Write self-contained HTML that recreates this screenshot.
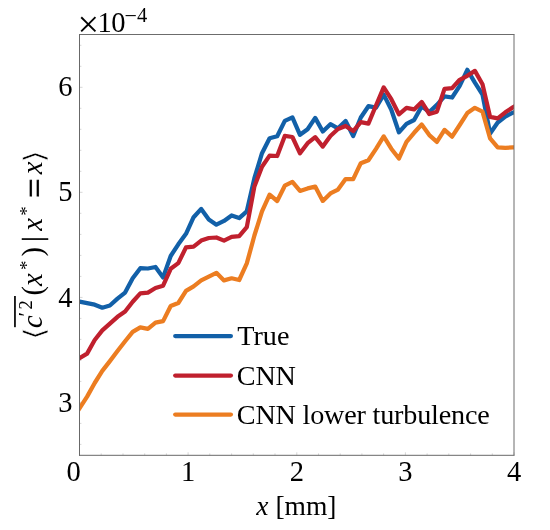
<!DOCTYPE html>
<html><head><meta charset="utf-8"><title>plot</title>
<style>
html,body{margin:0;padding:0;background:#fff;}
svg{display:block;}
text{font-family:"Liberation Serif","DejaVu Serif",serif;fill:#000;}
.t{font-size:28.5px;}
.i{font-style:italic;}
</style></head><body>
<svg width="550" height="530" viewBox="0 0 550 530">
<rect width="550" height="530" fill="#fff"/>
<g stroke="#b8b8b8" stroke-width="0.6">
<line x1="79.5" y1="455.3" x2="79.5" y2="452.3"/>
<line x1="101.2" y1="455.3" x2="101.2" y2="453.4"/>
<line x1="123.0" y1="455.3" x2="123.0" y2="453.4"/>
<line x1="144.7" y1="455.3" x2="144.7" y2="453.4"/>
<line x1="166.4" y1="455.3" x2="166.4" y2="453.4"/>
<line x1="188.1" y1="455.3" x2="188.1" y2="452.3"/>
<line x1="209.8" y1="455.3" x2="209.8" y2="453.4"/>
<line x1="231.6" y1="455.3" x2="231.6" y2="453.4"/>
<line x1="253.3" y1="455.3" x2="253.3" y2="453.4"/>
<line x1="275.0" y1="455.3" x2="275.0" y2="453.4"/>
<line x1="296.8" y1="455.3" x2="296.8" y2="452.3"/>
<line x1="318.5" y1="455.3" x2="318.5" y2="453.4"/>
<line x1="340.2" y1="455.3" x2="340.2" y2="453.4"/>
<line x1="361.9" y1="455.3" x2="361.9" y2="453.4"/>
<line x1="383.6" y1="455.3" x2="383.6" y2="453.4"/>
<line x1="405.4" y1="455.3" x2="405.4" y2="452.3"/>
<line x1="427.1" y1="455.3" x2="427.1" y2="453.4"/>
<line x1="448.8" y1="455.3" x2="448.8" y2="453.4"/>
<line x1="470.6" y1="455.3" x2="470.6" y2="453.4"/>
<line x1="492.3" y1="455.3" x2="492.3" y2="453.4"/>
<line x1="514.0" y1="455.3" x2="514.0" y2="452.3"/>
<line x1="79.5" y1="444.4" x2="81.4" y2="444.4"/>
<line x1="79.5" y1="423.4" x2="81.4" y2="423.4"/>
<line x1="79.5" y1="402.4" x2="82.5" y2="402.4"/>
<line x1="79.5" y1="381.4" x2="81.4" y2="381.4"/>
<line x1="79.5" y1="360.4" x2="81.4" y2="360.4"/>
<line x1="79.5" y1="339.4" x2="81.4" y2="339.4"/>
<line x1="79.5" y1="318.4" x2="81.4" y2="318.4"/>
<line x1="79.5" y1="297.4" x2="82.5" y2="297.4"/>
<line x1="79.5" y1="276.4" x2="81.4" y2="276.4"/>
<line x1="79.5" y1="255.4" x2="81.4" y2="255.4"/>
<line x1="79.5" y1="234.4" x2="81.4" y2="234.4"/>
<line x1="79.5" y1="213.3" x2="81.4" y2="213.3"/>
<line x1="79.5" y1="192.3" x2="82.5" y2="192.3"/>
<line x1="79.5" y1="171.3" x2="81.4" y2="171.3"/>
<line x1="79.5" y1="150.3" x2="81.4" y2="150.3"/>
<line x1="79.5" y1="129.3" x2="81.4" y2="129.3"/>
<line x1="79.5" y1="108.3" x2="81.4" y2="108.3"/>
<line x1="79.5" y1="87.3" x2="82.5" y2="87.3"/>
<line x1="79.5" y1="66.3" x2="81.4" y2="66.3"/>
<line x1="79.5" y1="45.3" x2="81.4" y2="45.3"/>
</g>
<g fill="none" stroke-linejoin="round" stroke-linecap="butt" stroke-width="4.25">
<clipPath id="cp"><rect x="79.5" y="34.5" width="434.5" height="420.8"/></clipPath>
<g clip-path="url(#cp)">
<polyline stroke="#1260a8" points="71.9,300.2 79.5,301.7 87.1,303.2 94.7,304.7 102.3,307.7 109.9,305.5 117.5,298.7 125.1,292.6 132.7,278.3 140.3,268.2 147.9,268.5 155.5,267.0 163.1,277.4 170.7,256.0 178.3,244.3 186.0,233.8 193.6,217.2 201.2,208.9 208.8,219.4 216.4,224.7 224.0,220.9 231.6,215.5 239.2,218.1 246.8,211.3 254.4,178.1 262.0,153.2 269.6,138.2 277.2,136.3 284.8,120.9 292.4,117.4 300.0,134.8 307.6,129.2 315.2,117.9 322.8,131.5 330.4,124.2 338.0,128.3 345.6,121.0 353.2,136.0 360.8,117.5 368.4,106.2 376.0,107.7 383.7,94.6 391.3,109.7 398.9,132.3 406.5,123.8 414.1,120.0 421.7,106.4 429.3,112.0 436.9,104.9 444.5,96.4 452.1,97.5 459.7,85.8 467.3,69.8 474.9,82.6 482.5,94.7 490.1,133.5 497.7,122.5 505.3,116.5 512.9,112.7 520.5,110.2"/>
<polyline stroke="#c0202e" points="71.9,362.6 79.5,358.1 87.1,353.6 94.7,340.0 102.3,330.4 109.9,323.6 117.5,316.8 125.1,311.5 132.7,301.7 140.3,293.4 147.9,292.6 155.5,288.0 163.1,285.7 170.7,268.8 178.3,263.1 186.0,247.4 193.6,246.6 201.2,240.6 208.8,238.0 216.4,237.5 224.0,240.6 231.6,236.9 239.2,236.2 246.8,227.2 254.4,186.4 262.0,166.8 269.6,155.6 277.2,156.0 284.8,135.9 292.4,137.0 300.0,153.3 307.6,143.2 315.2,137.2 322.8,146.6 330.4,136.0 338.0,129.0 345.6,126.0 353.2,131.1 360.8,122.1 368.4,123.6 376.0,105.5 383.7,87.4 391.3,99.2 398.9,114.3 406.5,107.9 414.1,109.4 421.7,101.9 429.3,114.0 436.9,111.7 444.5,88.9 452.1,88.1 459.7,79.8 467.3,75.8 474.9,70.9 482.5,84.2 490.1,116.9 497.7,118.4 505.3,112.3 512.9,107.4 520.5,103.0"/>
<polyline stroke="#ec7d21" points="71.9,420.2 79.5,408.4 87.1,396.6 94.7,383.0 102.3,370.9 109.9,361.1 117.5,351.0 125.1,341.3 132.7,331.9 140.3,327.4 147.9,328.9 155.5,322.7 163.1,321.1 170.7,306.0 178.3,303.0 186.0,290.9 193.6,286.4 201.2,280.4 208.8,276.6 216.4,272.8 224.0,280.4 231.6,278.3 239.2,280.0 246.8,263.4 254.4,235.5 262.0,211.3 269.6,194.7 277.2,201.0 284.8,185.7 292.4,181.9 300.0,190.9 307.6,188.4 315.2,186.6 322.8,200.9 330.4,193.4 338.0,189.6 345.6,179.1 353.2,179.1 360.8,163.2 368.4,160.2 376.0,148.9 383.7,136.4 391.3,148.7 398.9,158.5 406.5,141.9 414.1,132.8 421.7,124.5 429.3,135.1 436.9,141.9 444.5,129.9 452.1,136.7 459.7,125.0 467.3,113.1 474.9,107.8 482.5,111.6 490.1,138.3 497.7,147.4 505.3,147.8 512.9,147.4 520.5,147.4"/>
</g>
</g>
<g fill="none" stroke-width="0.9">
<line x1="79.5" y1="34.5" x2="514.5" y2="34.5" stroke="#6c6c6c" stroke-width="1"/>
<line x1="514.0" y1="34.5" x2="514.0" y2="455.3" stroke="#6c6c6c" stroke-width="1"/>
<line x1="79.5" y1="34.0" x2="79.5" y2="455.8" stroke="#686868" stroke-width="1"/>
<line x1="79.0" y1="455.3" x2="514.5" y2="455.3" stroke="#686868" stroke-width="1"/>
</g>
<g stroke-width="4.25" stroke-linecap="round">
<line x1="175.2" y1="336" x2="230.9" y2="336" stroke="#1260a8"/>
<line x1="175.2" y1="375.5" x2="230.9" y2="375.5" stroke="#c0202e"/>
<line x1="175.2" y1="414.5" x2="230.9" y2="414.5" stroke="#ec7d21"/>
</g>
<g class="t">
<g font-size="28.2px" letter-spacing="-0.2">
<text x="237.2" y="345" letter-spacing="0">True</text>
<text x="236.8" y="385">CNN</text>
<text x="236.8" y="424">CNN lower turbulence</text>
</g>
<text x="72.5" y="96.4" text-anchor="end">6</text>
<text x="72.5" y="201.4" text-anchor="end">5</text>
<text x="72.5" y="306.5" text-anchor="end">4</text>
<text x="72.5" y="412.4" text-anchor="end">3</text>
<text x="73.6" y="481.3" text-anchor="middle">0</text>
<text x="188.2" y="481.3" text-anchor="middle">1</text>
<text x="296.8" y="481.3" text-anchor="middle">2</text>
<text x="405.4" y="481.3" text-anchor="middle">3</text>
<text x="514" y="481.3" text-anchor="middle">4</text>
<text x="77.4" y="36.5" font-size="38.3px">×</text>
<text x="97.5" y="31.6" letter-spacing="-0.6">10</text>
<text x="124.5" y="23.4" font-size="22px">−</text>
<text x="137.1" y="21.6" font-size="20.5px">4</text>
<text x="256.3" y="515" font-size="27.5px"><tspan class="i">x</tspan> [mm]</text>
</g>
<g transform="translate(42,337) rotate(-90)" class="t">
<g transform="translate(-2.9,2.2) scale(1.15,1)"><text x="0" y="0" stroke="#fff" stroke-width="0.6">⟨</text></g>
<text class="i" x="8.9" y="0">c</text>
<text x="20.4" y="-9.2" font-size="20px">′</text>
<text x="27.4" y="-10.1" font-size="18.5px">2</text>
<rect x="9.8" y="-27.9" width="31.2" height="1.7" fill="#000"/>
<text x="41.6" y="0">(</text>
<text class="i" x="51" y="0">x</text>
<text x="67" y="-9.3" font-size="19px">*</text>
<text x="80.4" y="0">)</text>
<text x="95.05" y="0" stroke="#000" stroke-width="0.5">|</text>
<text class="i" x="106.3" y="0">x</text>
<text x="121.2" y="-9.3" font-size="19px">*</text>
<text x="139.3" y="4.25" font-size="34.2px" stroke="#000" stroke-width="0.7">=</text>
<text class="i" x="162.7" y="0">x</text>
<g transform="translate(174.2,2.2) scale(1.15,1)"><text x="0" y="0" stroke="#fff" stroke-width="0.6">⟩</text></g>
</g>
</svg>
</body></html>
